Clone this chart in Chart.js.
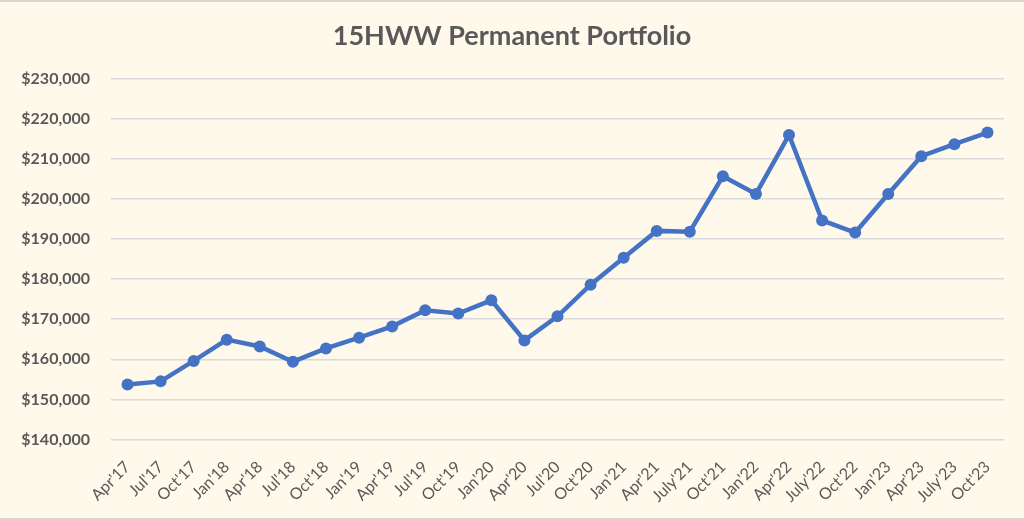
<!DOCTYPE html>
<html>
<head>
<meta charset="utf-8">
<script src="https://cdn.jsdelivr.net/npm/chart.js@4"></script>
<style>
  html, body { margin: 0; padding: 0; background: #FFF9EC; }
  #wrap { width: 1024px; height: 520px; box-sizing: border-box; border-top: 2px solid #D9D6D0; border-bottom: 2px solid #D9D6D0; background: #FFF9EC; }
  canvas { display: block; }
</style>
</head>
<body>
<div id="wrap"><canvas id="c" width="1024" height="516"></canvas></div>
<script>
const categories = ["Apr'17","Jul'17","Oct'17","Jan'18","Apr'18","Jul'18","Oct'18","Jan'19","Apr'19","Jul'19","Oct'19","Jan'20","Apr'20","Jul'20","Oct'20","Jan'21","Apr'21","July'21","Oct'21","Jan'22","Apr'22","July'22","Oct'22","Jan'23","Apr'23","July'23","Oct'23"];
const portfolioValues = [153700,154500,159600,164900,163200,159400,162700,165400,168200,172200,171400,174700,164700,170700,178600,185300,192000,191800,205600,201200,215900,194600,191600,201200,210600,213600,216500];
const yMin = 140000;
const yMax = 230000;
const yStep = 10000;
const titleText = "15HWW Permanent Portfolio";

const textColor = "#595959";
new Chart(document.getElementById('c'), {
  type: 'line',
  data: {
    labels: categories,
    datasets: [{
      data: portfolioValues,
      borderColor: '#4472C4',
      backgroundColor: '#4472C4',
      borderWidth: 4.5,
      pointRadius: 6,
      pointBorderWidth: 0,
      pointBackgroundColor: '#4472C4',
      tension: 0
    }]
  },
  options: {
    responsive: false,
    animation: false,
    layout: { padding: { left: 20, right: 20, top: 10, bottom: 2 } },
    plugins: {
      legend: { display: false },
      tooltip: { enabled: false },
      title: {
        display: true,
        text: titleText,
        color: textColor,
        font: { family: 'Lato', size: 27, weight: 'bold' },
        padding: { top: 8, bottom: 26 }
      }
    },
    scales: {
      x: {
        offset: true,
        grid: { display: false },
        border: { display: false },
        ticks: {
          color: textColor,
          font: { family: 'Lato', size: 16 },
          maxRotation: 45,
          minRotation: 45,
          autoSkip: false,
          padding: 10
        }
      },
      y: {
        min: yMin,
        max: yMax,
        border: { display: false },
        grid: { color: '#D9D9D9', lineWidth: 1.5, drawTicks: false },
        afterFit: s => { s.width = 91; },
        ticks: {
          stepSize: yStep,
          color: textColor,
          padding: 21,
          font: { family: 'Lato', size: 16, weight: 'bold' },
          callback: v => '$' + v.toLocaleString('en-US')
        }
      }
    }
  }
});
</script>
</body>
</html>
